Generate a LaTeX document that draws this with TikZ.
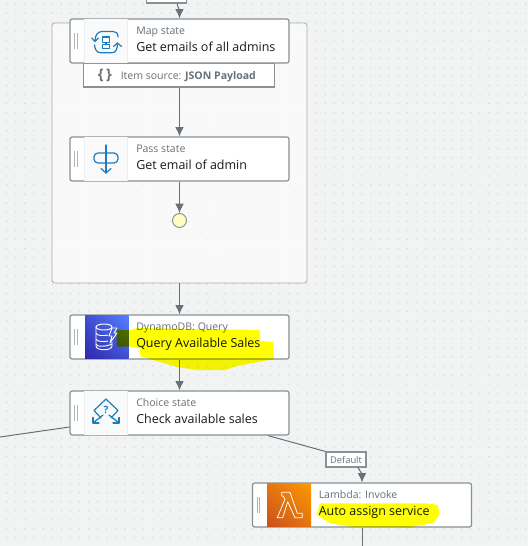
\documentclass[tikz,border=0pt]{standalone}
\usepackage{fontspec}
\setmainfont{Open Sans}
\usetikzlibrary{arrows.meta,calc,shadings}
\definecolor{pagebg}{HTML}{F2F3F3}
\definecolor{edgec}{HTML}{687078}
\definecolor{boxedge}{HTML}{879196}
\definecolor{labelc}{HTML}{687078}
\definecolor{titlec}{HTML}{16191F}
\definecolor{panelc}{HTML}{FAFAFA}
\definecolor{sepc}{HTML}{EAEDED}
\definecolor{iconc}{HTML}{1B7DBF}
\definecolor{hl}{HTML}{FFFF00}
\definecolor{dyA}{HTML}{2E27AD}
\definecolor{dyB}{HTML}{527FFF}
\definecolor{dyM}{HTML}{4050D0}
\definecolor{laA}{HTML}{C8511B}
\definecolor{laB}{HTML}{FF9900}
\definecolor{laM}{HTML}{E47510}
\tikzset{
  x=0.75pt,y=-0.75pt,
  statebox/.style={draw=boxedge,line width=0.9pt,fill=white,rounded corners=1.6pt,inner sep=0pt,minimum width=164.25pt,minimum height=33pt},
  srcbox/.style={draw=boxedge,line width=0.8pt,fill=white,inner sep=0pt,minimum width=143.25pt,minimum height=18pt},
  kind/.style={anchor=base west,inner sep=0pt,text=labelc,font=\fontsize{7.9}{9}\selectfont},
  title/.style={anchor=base west,inner sep=0pt,text=titlec,font=\fontsize{9.35}{11}\selectfont},
  conn/.style={draw=edgec,line width=0.75pt,-{Latex[length=7pt,width=6.5pt]}},
  plainconn/.style={draw=edgec,line width=0.75pt},
  icon/.style={draw=iconc,line width=0.9pt,line cap=round,line join=round},
  wicon/.style={draw=white,line width=0.7pt,line join=round},
  grip/.style={draw=black!30,line width=0.6pt},
}
\newcommand{\statedeco}[1]{%
  \fill[panelc] ($(#1.north west)+(15,0.7)$) rectangle ($(#1.south west)+(58,-0.7)$);
  \draw[sepc,line width=0.9pt] ($(#1.north west)+(15,0.7)$) -- ($(#1.south west)+(15,-0.7)$);
  \draw[sepc,line width=0.9pt] ($(#1.north west)+(58,0.7)$) -- ($(#1.south west)+(58,-0.7)$);
}
\newcommand{\stategrip}[1]{%
  \draw[grip] ($(#1.west)+(5.3,-8)$) -- ($(#1.west)+(5.3,8)$);
  \draw[grip] ($(#1.west)+(7.8,-8)$) -- ($(#1.west)+(7.8,8)$);
}
\begin{document}
\begin{tikzpicture}
\useasboundingbox (0,0) rectangle (528,546);
\fill[pagebg] (0,0) rectangle (528,546);
% dot grid
\foreach \i in {0,...,57}{\foreach \j in {0,...,60}{
  \fill[black!14] (6.7+9.1*\i,4+9.05*\j) circle (0.85);
}}
% group frame
\fill[white,opacity=0.55,rounded corners=2pt] (52,23) rectangle (307,283);
\node[draw=black!32,line width=0.6pt,rounded corners=2pt,inner sep=0pt,minimum width=191.25pt,minimum height=195pt] (group) at (179.5,153) {};
% state boxes
\node[draw=boxedge,line width=0.8pt,fill=white,inner sep=0pt,minimum width=30pt,minimum height=6pt] (top) at (166.3,-1) {};
\node[srcbox] (src) at (179.3,75) {};
\node[statebox] (map) at (179.5,41) {};
\node[statebox] (pass) at (179.5,159) {};
\node[statebox] (query) at (179.5,337) {};
\node[statebox] (choice) at (179.5,413) {};
\node[statebox] (lambda) at (362,505) {};
\node[draw=boxedge,line width=0.8pt,fill=white,inner sep=0pt,minimum width=30pt,minimum height=11.25pt,font=\fontsize{7}{8}\selectfont,text=labelc] (default) at (346,459.5) {Default};
\node[draw=black!45,line width=0.7pt,fill=yellow!25,circle,inner sep=0pt,minimum size=10.5pt] (end) at (179.5,220.5) {};
\coordinate (leftend) at (0,437);
\coordinate (bottomend) at (362,546);
% panels
\statedeco{map}\statedeco{pass}\statedeco{choice}
\stategrip{map}\stategrip{pass}\stategrip{query}\stategrip{choice}\stategrip{lambda}
\shade[lower left=dyA,upper right=dyB,lower right=dyM,upper left=dyM] (85,315.7) rectangle (128.5,358.3);
\shade[lower left=laA,upper right=laB,lower right=laM,upper left=laM] (267,483.7) rectangle (311,526.3);
% map icon
\draw[icon] (95,41) .. controls (95,35) and (98,31.5) .. (102,31.5) -- (113,31.5) .. controls (116,31.5) and (118,33) .. (118,37);
\draw[icon] (94.5,45) .. controls (95,50) and (97,52.7) .. (101,52.7) -- (112,52.7) .. controls (116,52.7) and (117.5,49) .. (117.5,43);
\draw[icon] (91.7,38) -- (95,41.5) -- (98.5,38);
\draw[icon] (113.5,46.5) -- (117.5,43) -- (121.5,46.5);
\draw[icon] (102.7,37) rectangle (109.3,42.7);
\draw[icon] (102.7,44.7) rectangle (109.3,48.3);
\draw[icon] (106,42.7) -- (106,44.7);
% pass icon
\begin{scope}[shift={(106,159)}]
  \draw[icon,rounded corners=3pt] (-12,-6) rectangle (12,4);
  \draw[icon] (0,-14) -- (0,14);
  \draw[icon] (-5,9.5) -- (0,14) -- (5,9.5);
\end{scope}
% choice icon
\begin{scope}[shift={(106,412)}]
  \draw[icon] (-5,6) -- (-12,-1.5) -- (0,-13) -- (12,-1.5) -- (5,6);
  \draw[icon] (-13,11) -- (-3,3);
  \draw[icon] (13,11) -- (3,3);
  \draw[icon] (-13,5.5) -- (-13,11) -- (-7,11);
  \draw[icon] (13,5.5) -- (13,11) -- (7,11);
  \node[text=iconc,font=\bfseries\fontsize{7.5}{8}\selectfont,inner sep=0pt] (qmark) at (0,-2.5) {?};
\end{scope}
% dynamo icon
\begin{scope}[shift={(106,337)}]
  \draw[wicon] (-2,-10) ellipse (8 and 3);
  \draw[wicon] (-10,-10) -- (-10,9) .. controls (-10,14) and (6,14) .. (6,9) -- (6,5);
  \draw[wicon] (-10,-4) .. controls (-10,-1) and (-1,-1) .. (2,-2);
  \draw[wicon] (-10,2) .. controls (-10,5) and (0,5) .. (2,4);
  \draw[wicon] (-10,7) .. controls (-10,10) and (0,10) .. (6,7);
  \draw[wicon] (6,-9) -- (3,-1) -- (6,-1) -- (4,6) -- (11,-4) -- (8,-4) -- (11,-9) -- cycle;
\end{scope}
% lambda icon
\draw[wicon,line width=0.6pt] (281.7,492.3) -- (290,492.3) -- (297.3,513.3) -- (302.3,513.3) -- (302.3,517.7) -- (295,517.7) -- (287.7,501.7) -- (282.7,517.7) -- (277.3,517.7) -- (285,499) -- (283,496) -- (281.7,496) -- cycle;
% text
\node[kind] (t1a) at (136,34) {Map state};
\node[title] (t1b) at (136,51) {Get emails of all admins};
\node[kind] (t2a) at (136,152) {Pass state};
\node[title] (t2b) at (136,169) {Get email of admin};
\node[kind] (t3a) at (136,330) {DynamoDB: Query};
\node[title] (t3b) at (136,347) {Query Available Sales};
\node[kind] (t4a) at (136,406) {Choice state};
\node[title] (t4b) at (136,423) {Check available sales};
\node[kind] (t5a) at (318.5,498) {Lambda: Invoke};
\node[title] (t5b) at (318.5,515) {Auto assign service};
\node[anchor=base,inner sep=0pt,text=black!55,font=\bfseries\fontsize{11}{12}\selectfont] (brace) at (105,79.5) {\{\,\}};
\node[anchor=base west,inner sep=0pt,text=labelc,font=\fontsize{7.9}{9}\selectfont] (srct) at (120.5,79) {Item source: \textbf{JSON Payload}};
% connectors
\draw[conn] (top.south -| 177,0) .. controls (178,8) and (179.5,10) .. (map.north);
\draw[conn] (src.south -| 179.5,0) -- (pass.north);
\draw[conn] (pass.south) -- (end.north);
\draw[conn] (group.south -| 179.5,0) -- (query.north);
\draw[conn] (query.south) -- (choice.north);
\draw[plainconn] (choice.west |- 0,427) -- (leftend);
\draw[plainconn] (choice.south -| 268,0) -- (default.north west);
\draw[conn] (default.south -| 358,0) .. controls (360,471) and (362,474) .. (lambda.north);
\draw[plainconn] (lambda.south) -- (bottomend);
% highlighter strokes
\begin{scope}[blend mode=multiply]
  \fill[hl] (116.7,330) -- (130,330) -- (137,328) -- (260,330) -- (260,341) -- (273,342) -- (274,359) -- (237,366) -- (225,370) -- (197,370) -- (177,367) -- (160,362) -- (140,356) -- (140,348) -- (130,346.7) -- (116.7,346.7) -- cycle;
  \fill[hl] (320,503.3) -- (426.7,503.3) -- (438,505) -- (439.3,515) -- (433,523) -- (410,527.3) -- (350,526.7) -- (330,523) -- (316.7,515) -- cycle;
\end{scope}
\end{tikzpicture}
\end{document}
